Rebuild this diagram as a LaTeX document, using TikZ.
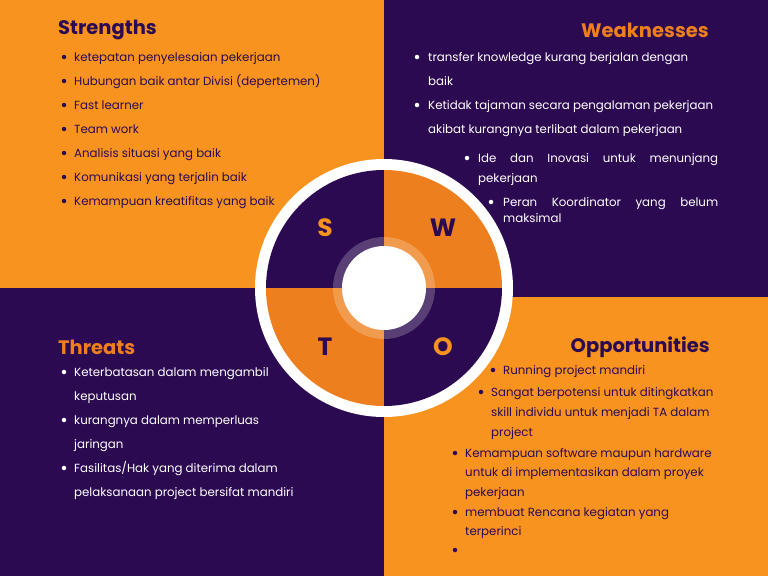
\documentclass[tikz,border=0pt]{standalone}
\usepackage{fontspec}
\setmainfont{Poppins}
\definecolor{org}{HTML}{F7931E}
\definecolor{qorg}{HTML}{EE7F1E}
\definecolor{pur}{HTML}{2C0A52}
\begin{document}
\begin{tikzpicture}[x=1pt,y=-1pt,
 tl/.style={anchor=base west,inner sep=0pt,font=\fontsize{11.8}{14}\selectfont},
 pt/.style={tl,text=pur}, wt/.style={tl,text=white},
 ttl/.style={inner sep=0pt,font=\fontsize{19.5}{22}\selectfont\bfseries},
 let/.style={inner sep=0pt,font=\fontsize{25}{28}\selectfont\bfseries},
 pb/.style={circle,fill=pur,inner sep=0pt,minimum size=4.5pt},
 wb/.style={circle,fill=white,inner sep=0pt,minimum size=4.5pt}]
\useasboundingbox (0,0) rectangle (768,576);
\fill[org] (0,0) rectangle (384,288);
\fill[pur] (0,288) rectangle (384,576);
\fill[pur] (384,0) rectangle (768,297);
\fill[org] (384,297) rectangle (768,576);
% circle
\fill[white] (384,288) circle (129);
\begin{scope}
\clip (384,288) circle (118);
\fill[pur] (266,170) rectangle (384,288);
\fill[qorg] (384,170) rectangle (502,288);
\fill[qorg] (266,288) rectangle (384,406);
\fill[pur] (384,288) rectangle (502,406);
\end{scope}
\fill[white,opacity=0.22] (384,288) circle (51);
\fill[white] (384,288) circle (42);
\node[let,text=org] (ls) at (325,228) {S};
\node[let,text=pur] (lw) at (443,228) {W};
\node[let,text=pur] (lt) at (325,347) {T};
\node[let,text=org] (lo) at (443,347) {O};
% titles
\node[ttl,text=pur,anchor=west] (ts) at (58,30) {Strengths};
\node[ttl,text=qorg,anchor=east] (tw) at (709,30) {Weaknesses};
\node[ttl,text=qorg,anchor=west] (tt) at (58,347) {Threats};
\node[ttl,text=pur,anchor=east] (to) at (710,347) {Opportunities};
% strengths
\foreach \t [count=\i] in {ketepatan penyelesaian pekerjaan,Hubungan baik antar Divisi (depertemen),Fast learner,Team work,Analisis situasi yang baik,Komunikasi yang terjalin baik,Kemampuan kreatifitas yang baik}{
 \node[pb] (sb\i) at (64,{57+24*(\i-1)}) {};
 \node[pt] (s\i) at (74,{61+24*(\i-1)}) {\t};
}
% weaknesses
\node[wb] (wb1) at (417,57) {};
\node[wt] (w1) at (428,61) {transfer knowledge kurang berjalan dengan};
\node[wt] (w1b) at (428,85) {baik};
\node[wb] (wb2) at (417,105) {};
\node[wt] (w2) at (428,109) {Ketidak tajaman secara pengalaman pekerjaan};
\node[wt] (w2b) at (428,133) {akibat kurangnya terlibat dalam pekerjaan};
\node[wb] (wb3) at (467,158) {};
\node[wt] (w3) at (478,162) {\makebox[240pt][s]{Ide dan Inovasi untuk menunjang}};
\node[wt] (w3b) at (478,182) {pekerjaan};
\node[wb] (wb4) at (491,202) {};
\node[wt] (w4) at (503,206) {\makebox[215pt][s]{Peran Koordinator yang belum}};
\node[wt] (w4b) at (503,222) {maksimal};
% threats
\node[wb] (tb1) at (64,372) {};
\node[wt] (t1) at (74,376) {Keterbatasan dalam mengambil};
\node[wt] (t1b) at (74,400) {keputusan};
\node[wb] (tb2) at (64,420) {};
\node[wt] (t2) at (74,424) {kurangnya dalam memperluas};
\node[wt] (t2b) at (74,448) {jaringan};
\node[wb] (tb3) at (64,468) {};
\node[wt] (t3) at (74,472) {Fasilitas/Hak yang diterima dalam};
\node[wt] (t3b) at (74,496) {pelaksanaan project bersifat mandiri};
% opportunities
\node[pb] (ob1) at (493,370) {};
\node[pt] (o1) at (503,374) {Running project mandiri};
\node[pb] (ob2) at (481,392) {};
\node[pt] (o2) at (491,396) {Sangat berpotensi untuk ditingkatkan};
\node[pt] (o2b) at (491,416) {skill individu untuk menjadi TA dalam};
\node[pt] (o2c) at (491,436) {project};
\node[pb] (ob3) at (455,453) {};
\node[pt] (o3) at (465,457) {Kemampuan software maupun hardware};
\node[pt] (o3b) at (465,476) {untuk di implementasikan dalam proyek};
\node[pt] (o3c) at (465,496) {pekerjaan};
\node[pb] (ob4) at (455,512) {};
\node[pt] (o4) at (465,516) {membuat Rencana kegiatan yang};
\node[pt] (o4b) at (465,535) {terperinci};
\node[pb] (ob5) at (455,550) {};
\end{tikzpicture}
\end{document}
